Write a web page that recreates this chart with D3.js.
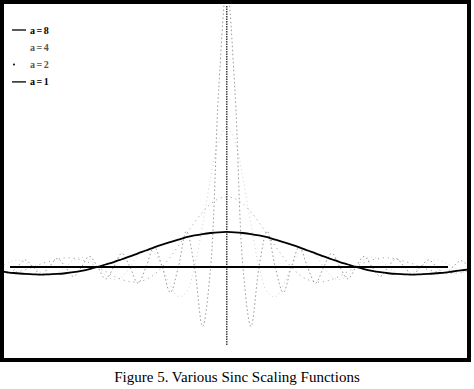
<!DOCTYPE html>
<html>
<head>
<meta charset="utf-8">
<script src="https://cdn.jsdelivr.net/npm/d3@7"></script>
<style>
  body { margin: 0; background: #fff; }
  svg { display: block; }
</style>
</head>
<body>
<svg id="chart" width="474" height="389"></svg>
<script>
// sample positions (in units of the widest sinc's first zero), step 1/16
const sampleX = [
  -1.75, -1.6875, -1.625, -1.5625, -1.5, -1.4375, -1.375, -1.3125, -1.25, -1.1875,
  -1.125, -1.0625, -1, -0.9375, -0.875, -0.8125, -0.75, -0.6875, -0.625, -0.5625,
  -0.5, -0.4375, -0.375, -0.3125, -0.25, -0.1875, -0.125, -0.0625, 0,
  0.0625, 0.125, 0.1875, 0.25, 0.3125, 0.375, 0.4375, 0.5, 0.5625, 0.625,
  0.6875, 0.75, 0.8125, 0.875, 0.9375, 1, 1.0625, 1.125, 1.1875, 1.25,
  1.3125, 1.375, 1.4375, 1.5, 1.5625, 1.625, 1.6875, 1.75, 1.8125, 1.875
];

const a1 = [
  -0.13, -0.16, -0.18, -0.20, -0.21, -0.22, -0.21, -0.20, -0.18, -0.15,
  -0.11, -0.06, 0, 0.07, 0.14, 0.22, 0.30, 0.39, 0.47, 0.56,
  0.64, 0.71, 0.78, 0.85, 0.90, 0.94, 0.97, 0.99, 1,
  0.99, 0.97, 0.94, 0.90, 0.85, 0.78, 0.71, 0.64, 0.56, 0.47,
  0.39, 0.30, 0.22, 0.14, 0.07, 0, -0.06, -0.11, -0.15, -0.18,
  -0.20, -0.21, -0.22, -0.21, -0.20, -0.18, -0.16, -0.13, -0.10, -0.07
];

const a2 = [
  -0.18, -0.17, -0.14, -0.08, 0, 0.09, 0.16, 0.22, 0.26, 0.25,
  0.20, 0.12, 0, -0.13, -0.26, -0.36, -0.42, -0.43, -0.36, -0.22,
  0, 0.28, 0.60, 0.94, 1.27, 1.57, 1.80, 1.95, 2,
  1.95, 1.80, 1.57, 1.27, 0.94, 0.60, 0.28, 0, -0.22, -0.36,
  -0.43, -0.42, -0.36, -0.26, -0.13, 0, 0.12, 0.20, 0.25, 0.26,
  0.22, 0.16, 0.09, 0, -0.08, -0.14, -0.17, -0.18, -0.16, -0.12
];

const a4 = [
  0, 0.13, 0.20, 0.14, 0, -0.16, -0.23, -0.17, 0, 0.19,
  0.28, 0.21, 0, -0.24, -0.36, -0.28, 0, 0.33, 0.51, 0.40,
  0, -0.51, -0.85, -0.72, 0, 1.20, 2.55, 3.60, 4,
  3.60, 2.55, 1.20, 0, -0.72, -0.85, -0.51, 0, 0.40, 0.51,
  0.33, 0, -0.28, -0.36, -0.24, 0, 0.21, 0.28, 0.19, 0,
  -0.17, -0.23, -0.16, 0, 0.14, 0.20, 0.13, 0, -0.12, -0.17
];

const a8 = [
  0, -0.19, 0, 0.20, 0, -0.22, 0, 0.24, 0, -0.27,
  0, 0.30, 0, -0.34, 0, 0.39, 0, -0.46, 0, 0.57,
  0, -0.73, 0, 1.02, 0, -1.70, 0, 5.09, 8,
  5.09, 0, -1.70, 0, 1.02, 0, -0.73, 0, 0.57, 0,
  -0.46, 0, 0.39, 0, -0.34, 0, 0.30, 0, -0.27, 0,
  0.24, 0, -0.22, 0, 0.20, 0, -0.19, 0, 0.18, 0
];

const legendLabels = ['a=8', 'a=4', 'a=2', 'a=1'];
const caption = 'Figure 5. Various Sinc Scaling Functions';

const svg = d3.select('#chart');

// plot box (inside the heavy frame)
const plotLeft = 4, plotRight = 467, plotTop = 3, plotBottom = 359;

const x = d3.scaleLinear().domain([-1.725, 1.86]).range([plotLeft, plotRight]);
const y = d3.scaleLinear().domain([-2.63, 7.54]).range([plotBottom, plotTop]);

svg.append('defs').append('clipPath')
  .attr('id', 'plot-clip')
  .append('rect')
    .attr('x', plotLeft)
    .attr('y', plotTop)
    .attr('width', plotRight - plotLeft)
    .attr('height', plotBottom - plotTop);

const plot = svg.append('g').attr('clip-path', 'url(#plot-clip)');

// vertical axis (dotted in the scan)
plot.append('line')
  .attr('x1', x(0)).attr('x2', x(0))
  .attr('y1', 6).attr('y2', 345)
  .attr('stroke', '#222')
  .attr('stroke-width', 1.3)
  .attr('stroke-dasharray', '1.5,1');

const series = [
  { name: legendLabels[0], values: a8, color: '#444', width: 1, dash: '1.5,2.5', opacity: 0.55 },
  { name: legendLabels[1], values: a4, color: '#999', width: 1, dash: '1,3', opacity: 0.45 },
  { name: legendLabels[2], values: a2, color: '#555', width: 1, dash: '1,4', opacity: 0.6 },
  { name: legendLabels[3], values: a1, color: '#000', width: 1.8, dash: null, opacity: 1 }
];

const line = d3.line()
  .x((d, i) => x(sampleX[i]))
  .y(d => y(d))
  .curve(d3.curveCatmullRom.alpha(0.5));

plot.selectAll('path.curve')
  .data(series)
  .enter().append('path')
    .attr('class', 'curve')
    .attr('fill', 'none')
    .attr('stroke', d => d.color)
    .attr('stroke-width', d => d.width)
    .attr('stroke-dasharray', d => d.dash)
    .attr('opacity', d => d.opacity)
    .attr('d', d => line(d.values));

// horizontal zero axis
plot.append('line')
  .attr('x1', 10).attr('x2', 448)
  .attr('y1', y(0)).attr('y2', y(0))
  .attr('stroke', '#000')
  .attr('stroke-width', 2);

// legend
const legend = svg.append('g').attr('transform', 'translate(12,30)');
const rows = legend.selectAll('g')
  .data(series)
  .enter().append('g')
    .attr('transform', (d, i) => 'translate(0,' + (i * 17.3) + ')');

rows.filter((d, i) => i == 0 || i == 3).append('line')
  .attr('x1', 0).attr('x2', 14)
  .attr('stroke', '#000')
  .attr('stroke-width', 1.3);
rows.filter((d, i) => i == 2).append('circle')
  .attr('cx', 2).attr('cy', 0).attr('r', 1)
  .attr('fill', '#000');

rows.append('text')
  .attr('x', 18)
  .attr('y', 3.5)
  .attr('font-family', 'Liberation Serif, serif')
  .attr('font-weight', 'bold')
  .attr('font-size', 10)
  .attr('letter-spacing', 1.5)
  .attr('fill', (d, i) => i == 1 || i == 2 ? '#555' : '#000')
  .text(d => d.name);

// heavy frame
svg.append('rect')
  .attr('x', 2).attr('y', 2)
  .attr('width', 467).attr('height', 358)
  .attr('fill', 'none')
  .attr('stroke', '#000')
  .attr('stroke-width', 4);

svg.append('text')
  .attr('x', 237)
  .attr('y', 382)
  .attr('text-anchor', 'middle')
  .attr('font-family', 'Liberation Serif, serif')
  .attr('font-size', 15)
  .attr('fill', '#000')
  .text(caption);
</script>
</body>
</html>
